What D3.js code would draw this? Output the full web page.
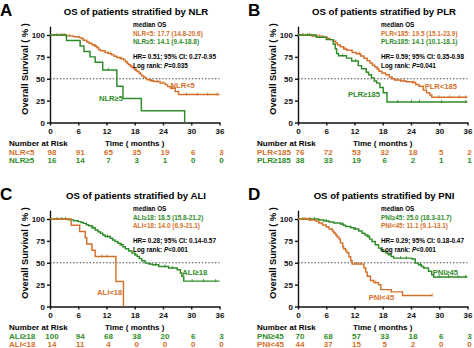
<!DOCTYPE html>
<html>
<head>
<meta charset="utf-8">
<script src="https://cdn.jsdelivr.net/npm/d3@7"></script>
<style>
body{margin:0;background:#fff;}
svg text{font-family:"Liberation Sans",Arial,sans-serif;font-weight:bold;}
</style>
</head>
<body>
<svg id="chart" width="474" height="348"></svg>
<script>
const orange = '#d5702a';
const green = '#2f8c2a';

const monthTicks = [0, 6, 12, 18, 24, 30, 36];
const survTicks = [0, 25, 50, 75, 100];

// [month, survival %] steps, censor times, number at risk
const nlrLow = [[0,100],[3.4,99],[5.0,98],[6.2,97],[6.7,96],[7.1,94],[7.8,92],[8.3,90.5],[8.9,88.8],[9.4,87.5],[9.9,85.7],[10.3,83.5],[10.7,81.9],[11.7,80],[12.4,78.7],[13.1,77.3],[13.6,75.8],[14.2,74.3],[14.9,73],[15.6,71.6],[16.0,69.5],[16.4,67.5],[16.7,65.9],[17.1,64.3],[17.4,62.9],[17.8,61.3],[18.1,59.8],[18.5,58.3],[18.9,56.6],[19.2,55],[19.5,53.3],[19.9,51.8],[20.3,50.3],[20.6,48.8],[21.3,47.8],[22.0,46.9],[23.4,45],[24.5,43],[25.0,41],[25.6,39.2],[26.6,35.4],[27.3,32]];
const nlrLowCensor = [1.5, 2.5, 3.0, 4.2, 9.6, 12.8, 15.2, 18.3, 21.6, 22.8, 24.0, 26.0, 29.0, 31.3, 33.5, 35.5];
const nlrLowRisk = [98, 91, 65, 35, 19, 6, 3];
const nlrHigh = [[0,100],[3.5,93.75],[6.4,87.5],[7.2,81.25],[8.5,75],[9.6,68.75],[11.2,60],[14.2,41.5],[15.5,27.5],[19.4,13.5],[28.6,0]];
const nlrHighCensor = [12.4];
const nlrHighRisk = [16, 14, 7, 3, 1, 0, 0];

const plrLow = [[0,100],[3.0,98.7],[5.4,97.4],[6.2,96],[6.8,94.7],[7.5,92.8],[8.0,90.8],[8.4,88.6],[9.0,86.5],[9.7,84],[10.4,82.5],[11.5,80],[12.4,78.5],[13.3,76],[14.0,73.5],[14.7,70.5],[15.3,68],[15.8,65.5],[16.3,63.5],[16.8,61],[17.2,58.5],[17.8,56.5],[18.6,54.5],[19.4,52],[20.0,50],[20.5,48.6],[21.8,47.5],[23.0,46.6],[24.3,45.7],[25.0,43.5],[25.7,41.5],[26.6,37],[27.3,34],[28.0,31.4],[28.4,28.8]];
const plrLowCensor = [1.0, 2.0, 3.4, 4.5, 10.0, 13.0, 17.0, 20.8, 22.4, 24.6, 30.0, 32.2, 34.3, 35.6];
const plrLowRisk = [76, 72, 53, 32, 18, 5, 2];
const plrHigh = [[0,100],[3.9,97.4],[6.0,94.7],[7.5,89.5],[7.9,84.2],[8.2,78.9],[8.6,76.3],[10.3,73.6],[11.4,70.4],[12.8,65],[13.5,61.5],[14.5,57.5],[15.0,54.5],[15.6,51],[16.2,47.5],[16.7,45],[17.4,40],[18.1,34],[18.9,23.4]];
const plrHighCensor = [2.5, 9.5, 12.2, 21.2, 24.1, 25.8, 30.5, 35.6];
const plrHighRisk = [38, 33, 19, 6, 2, 1, 1];

const aliHigh = [[0,100],[3.9,99],[5.0,98],[6.0,97],[6.6,96],[7.1,95],[7.7,93.5],[8.2,92.4],[8.9,90],[9.6,87.5],[10.2,85.5],[10.7,83.7],[11.2,81.8],[11.7,79.9],[12.8,78],[13.3,76],[13.8,74.2],[14.4,72.4],[14.9,70.5],[15.5,68.2],[16.0,65.9],[16.7,63.5],[17.4,61],[18.0,59],[18.5,57.2],[19.0,54.7],[19.5,52.3],[20.2,49.6],[21.0,48.6],[21.7,47.7],[23.1,45.8],[25.2,43.9],[27.0,42],[27.7,38.3],[28.0,34.5],[28.4,29]];
const aliHighCensor = [1.5, 2.5, 3.3, 9.2, 12.2, 15.2, 18.2, 22.4, 24.4, 26.0, 30.2, 32.6, 35.2];
const aliHighRisk = [100, 94, 68, 38, 20, 6, 3];
const aliLow = [[0,100],[4.5,92.9],[6.3,85.7],[7.5,78.6],[7.8,71.4],[8.9,64.3],[9.6,57.1],[14.0,28.6],[15.6,0]];
const aliLowCensor = [11.0, 12.1];
const aliLowRisk = [14, 11, 4, 0, 0, 0, 0];

const pniHigh = [[0,100],[4.4,98.9],[5.5,97.8],[6.6,96.6],[7.6,95.5],[9.0,94.3],[9.6,92.8],[10.1,91.5],[11.2,90],[11.9,88.6],[12.9,86.4],[13.6,83.7],[14.2,81.8],[14.7,79.9],[15.2,77],[15.7,74.2],[16.4,70.5],[17.1,66.7],[17.6,64.8],[18.2,62.9],[18.7,61],[19.2,59.1],[19.8,57.2],[20.3,55.3],[24.2,54.2],[24.9,49.6],[25.6,47.7],[26.2,45.8],[26.7,43.9],[27.7,40.2],[28.4,36.4],[28.8,33.8]];
const pniHighCensor = [1.0, 2.5, 3.5, 6.0, 9.4, 12.2, 15.0, 19.0, 21.8, 23.0, 26.0, 30.0, 32.0, 34.0, 35.6];
const pniHighRisk = [70, 68, 57, 33, 18, 6, 3];
const pniLow = [[0,100],[2.3,98.9],[3.7,97.7],[4.4,95.5],[5.2,93.2],[6.0,90.9],[6.6,88.6],[7.3,86.4],[7.6,84],[8.0,81.8],[8.3,79.5],[8.7,77.3],[9.0,72.7],[9.5,68.2],[9.7,65.9],[10.1,63.6],[10.4,61.4],[10.8,56.8],[11.2,52.3],[11.5,48.6],[14.0,44.1],[14.4,39.3],[14.7,34.5],[15.4,29.8],[16.1,27.3],[17.1,24.8],[17.6,19.3],[19.8,16.7],[22.2,12.5]];
const pniLowCensor = [1.5, 2.8, 12.4, 13.2, 16.5, 28.5];
const pniLowRisk = [44, 37, 15, 5, 2, 0, 0];

const panels = [
  {letter:'A', dx:0, dy:0, title:'OS of patients stratified by NLR',
   hr:'HR= 0.51; 95% CI: 0.27-0.95', p:'=0.035',
   groups:[
     {name:'NLR<5', color:orange, steps:nlrLow, censor:nlrLowCensor, end:36, risk:nlrLowRisk, median:'NLR<5: 17.7 (14.8-20.6)', label:[25.6, 39.4]},
     {name:'NLR\u22655', color:green, steps:nlrHigh, censor:nlrHighCensor, end:28.6, risk:nlrHighRisk, median:'NLR\u22655: 14.1 (9.4-18.8)', label:[10.4, 24.6]}
   ]},
  {letter:'B', dx:248, dy:0, title:'OS of patients stratified by PLR',
   hr:'HR= 0.59; 95% CI: 0.35-0.98', p:'=0.041',
   groups:[
     {name:'PLR<185', color:orange, steps:plrLow, censor:plrLowCensor, end:36, risk:plrLowRisk, median:'PLR<185: 19.5 (15.1-23.9)', label:[26.9, 38.3]},
     {name:'PLR\u2265185', color:green, steps:plrHigh, censor:plrHighCensor, end:36, risk:plrHighRisk, median:'PLR\u2265185: 14.1 (10.1-18.1)', label:[10.6, 29.1]}
   ]},
  {letter:'C', dx:0, dy:184, title:'OS of patients stratified by ALI',
   hr:'HR= 0.28; 95% CI: 0.14-0.57', p:'<0.001',
   groups:[
     {name:'ALI\u226518', color:green, steps:aliHigh, censor:aliHighCensor, end:36, risk:aliHighRisk, median:'ALI\u226518: 18.5 (15.8-21.2)', label:[28.1, 36.4]},
     {name:'ALI<18', color:orange, steps:aliLow, censor:aliLowCensor, end:15.6, risk:aliLowRisk, median:'ALI<18: 14.0 (6.9-21.1)', label:[10.0, 13.6]}
   ]},
  {letter:'D', dx:248, dy:184, title:'OS of patients stratified by PNI',
   hr:'HR= 0.29; 95% CI: 0.18-0.47', p:'<0.001',
   groups:[
     {name:'PNI\u226545', color:green, steps:pniHigh, censor:pniHighCensor, end:36, risk:pniHighRisk, median:'PNI\u226545: 25.0 (18.3-31.7)', label:[28.6, 36.4]},
     {name:'PNI<45', color:orange, steps:pniLow, censor:pniLowCensor, end:28.5, risk:pniLowRisk, median:'PNI<45: 11.1 (9.1-13.1)', label:[15.0, 8.0]}
   ]}
];

const svg = d3.select('#chart');

function survAt(steps, t){
  let s = steps[0][1];
  steps.forEach(d=>{ if(d[0] <= t) s = d[1]; });
  return s;
}

panels.forEach(p=>{
  const g = svg.append('g').attr('transform', `translate(${p.dx},${p.dy})`);
  const x = d3.scaleLinear().domain([0, 36]).range([50, 219.5]);
  const y = d3.scaleLinear().domain([0, 110]).range([122.5, 26.25]);

  g.append('text').attr('x', 0).attr('y', 15.5).attr('font-size', 17).text(p.letter);
  g.append('text').attr('x', 136).attr('y', 15).attr('text-anchor', 'middle')
    .attr('font-size', 9.6).text(p.title);

  // 50% reference line
  g.append('line')
    .attr('x1', x(0)).attr('x2', x(36))
    .attr('y1', y(50)).attr('y2', y(50))
    .attr('stroke', '#333').attr('stroke-width', 0.9)
    .attr('stroke-dasharray', '1.5,1.8');

  // axes
  const yAxis = g.append('g').attr('transform', `translate(${x(0)},0)`)
    .call(d3.axisLeft(y).tickValues(survTicks).tickSize(3).tickSizeOuter(0).tickPadding(2));
  const xAxis = g.append('g').attr('transform', `translate(0,${y(0)})`)
    .call(d3.axisBottom(x).tickValues(monthTicks).tickSize(3).tickSizeOuter(0).tickPadding(2.5));
  [yAxis, xAxis].forEach(a=>{
    a.selectAll('path,line').attr('stroke', '#111').attr('stroke-width', 1.4);
    a.selectAll('text').attr('font-size', 8).attr('fill', '#111')
      .style('font-family', '"Liberation Sans",Arial,sans-serif').style('font-weight', 'bold');
  });

  g.append('text')
    .attr('transform', `translate(28,69) rotate(-90)`)
    .attr('text-anchor', 'middle').attr('font-size', 9.2)
    .text('Overall Survival ( % )');

  // survival curves
  const line = d3.line().x(d=>x(d[0])).y(d=>y(d[1])).curve(d3.curveStepAfter);
  p.groups.forEach(gr=>{
    const pts = gr.steps.concat([[gr.end, gr.steps[gr.steps.length-1][1]]]);
    g.append('path').datum(pts)
      .attr('d', line).attr('fill', 'none')
      .attr('stroke', gr.color).attr('stroke-width', 1.45);

    g.selectAll(null).data(gr.censor).enter().append('line')
      .attr('x1', d=>x(d)).attr('x2', d=>x(d))
      .attr('y1', d=>y(survAt(gr.steps, d)) - 2)
      .attr('y2', d=>y(survAt(gr.steps, d)) + 1)
      .attr('stroke', gr.color).attr('stroke-width', 0.9);

    g.append('text')
      .attr('x', x(gr.label[0])).attr('y', y(gr.label[1]))
      .attr('font-size', 7.6).attr('fill', gr.color)
      .text(gr.name);
  });

  // median OS / hazard ratio block
  const lx = 133;
  g.append('text').attr('x', lx).attr('y', 27.2).attr('font-size', 6.4).text('median OS');
  p.groups.forEach((gr, i)=>{
    g.append('text').attr('x', lx).attr('y', 35.7 + i*8.5)
      .attr('font-size', 6.4).attr('fill', gr.color).text(gr.median);
  });
  g.append('text').attr('x', lx).attr('y', 59.2).attr('font-size', 6.4).text(p.hr);
  const lr = g.append('text').attr('x', lx).attr('y', 67.7).attr('font-size', 6.4);
  lr.append('tspan').text('Log rank: ');
  lr.append('tspan').attr('font-style', 'italic').text('P');
  lr.append('tspan').text(p.p);

  // number at risk table
  g.append('text').attr('x', 9).attr('y', 146).attr('font-size', 8).text('Number at Risk');
  g.append('text').attr('x', (x(0)+x(36))/2).attr('y', 146)
    .attr('text-anchor', 'middle').attr('font-size', 8).text('Time ( months )');
  p.groups.forEach((gr, i)=>{
    const ry = 155 + i*8.2;
    g.append('text').attr('x', 9).attr('y', ry).attr('font-size', 8)
      .attr('fill', gr.color).text(gr.name);
    g.selectAll(null).data(gr.risk).enter().append('text')
      .attr('x', (d, j)=>x(monthTicks[j]) + 2)
      .attr('y', ry).attr('text-anchor', 'middle')
      .attr('font-size', 8).attr('fill', gr.color)
      .text(d=>d);
  });
});
</script>
</body>
</html>
